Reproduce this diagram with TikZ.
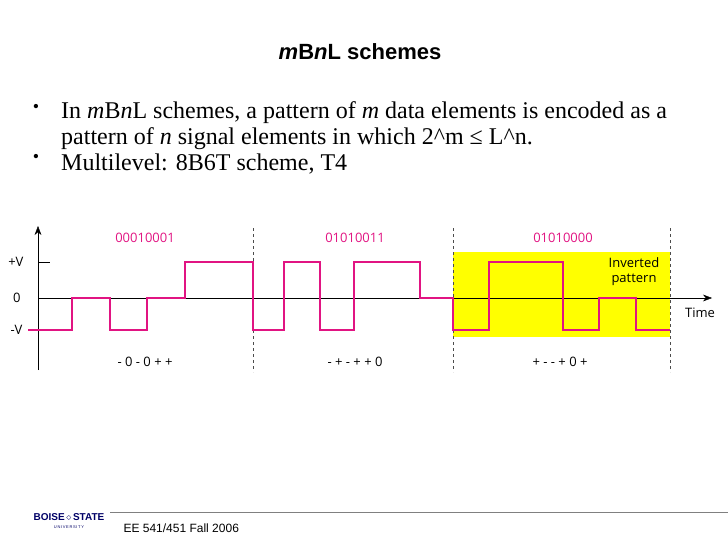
\documentclass[tikz,border=0pt]{standalone}
\usepackage{fontspec}
\setmainfont{Liberation Serif}
\setsansfont{Liberation Sans}
\newfontfamily\figfont{Open Sans}
\usepackage{xcolor}
\usetikzlibrary{arrows.meta}
\definecolor{sigpink}{RGB}{225,20,130}
\definecolor{hiyellow}{RGB}{255,255,0}
\tikzset{
  bullet/.style={inner sep=0, font=\fontsize{18}{19}\selectfont},
  para/.style={anchor=west, align=left, inner sep=0, font=\fontsize{24}{26}\selectfont},
  bits/.style={text=sigpink, font=\figfont\fontsize{13}{15}\selectfont},
  lvl/.style={font=\figfont\fontsize{13}{15}\selectfont},
  sep/.style={dashed, thin, gray!60!black},
  sig/.style={sigpink, line width=2.6pt},
}
\begin{document}
\begin{tikzpicture}[x=1pt,y=-1pt]
\useasboundingbox (0,0) rectangle (728,546);
% title and text
\node[font=\sffamily\bfseries\fontsize{22}{26}\selectfont] (title) at (360,52) {\textit{m}B\textit{n}L schemes};
\node[bullet] (b1) at (36,108) {\textbullet};
\node[para] (t1) at (61,126) {In \textit{m}B\textit{n}L schemes, a pattern of \textit{m} data elements is encoded as a\\pattern of \textit{n} signal elements in which 2\^{}m ≤ L\^{}n.};
\node[bullet] (b2) at (36,158) {\textbullet};
\node[para] (t2) at (61,164) {Multilevel: 8B6T scheme, T4};
% highlighted block
\fill[hiyellow] (453,252) rectangle (670,337);
\node[lvl, align=center] (inv) at (634,272) {Inverted\\pattern};
% axes
\coordinate (o) at (38,370);
\coordinate (top) at (38,226);
\coordinate (t0) at (38,298);
\coordinate (tend) at (712,298);
\draw[-{Stealth[length=9pt]}] (o) -- (top);
\draw[-{Stealth[length=9pt]}] (t0) -- (tend);
\node[lvl, anchor=north] (time) at (700,304) {Time};
\draw (38,262) -- (50,262);
\node[lvl, anchor=east] (pv) at (27,262) {+V};
\node[lvl, anchor=east] (zv) at (24,298) {0};
\node[lvl, anchor=east] (mv) at (26,330) {-V};
% block separators
\foreach \x in {253,453,670}
  \draw[sep] (\x,228) -- (\x,372);
% signal
\draw[sig] (28,330) -- (72,330) -- (72,298) -- (110,298) -- (110,330) -- (147,330) -- (147,298)
  -- (185,298) -- (185,262) -- (253,262) -- (253,330) -- (284,330) -- (284,262) -- (320,262)
  -- (320,330) -- (354,330) -- (354,262) -- (420,262) -- (420,298) -- (453,298) -- (453,330)
  -- (489,330) -- (489,262) -- (563,262) -- (563,330) -- (599,330) -- (599,298) -- (636,298)
  -- (636,330) -- (670,330);
% labels
\node[bits] (d1) at (145,238) {00010001};
\node[bits] (d2) at (355,238) {01010011};
\node[bits] (d3) at (563,238) {01010000};
\node[lvl] (s1) at (145,362) {- 0 - 0 + +};
\node[lvl] (s2) at (355,362) {- + - + + 0};
\node[lvl] (s3) at (560,362) {+ - - + 0 +};
% footer
\draw[gray, line width=1pt] (110,512) -- (728,512);
\node[font=\sffamily\fontsize{12}{14}\selectfont, anchor=west] (foot) at (120,528) {EE 541/451 Fall 2006};
\node[font=\sffamily\bfseries\fontsize{10}{11}\selectfont, text=blue!40!black, inner sep=0] (logo) at (69,517) {BOISE$\,\diamond\,$STATE};
\node[font=\sffamily\fontsize{4}{5}\selectfont, text=blue!40!black, inner sep=0] (uni) at (69,527) {U\,N\,I\,V\,E\,R\,S\,I\,T\,Y};
\end{tikzpicture}
\end{document}
